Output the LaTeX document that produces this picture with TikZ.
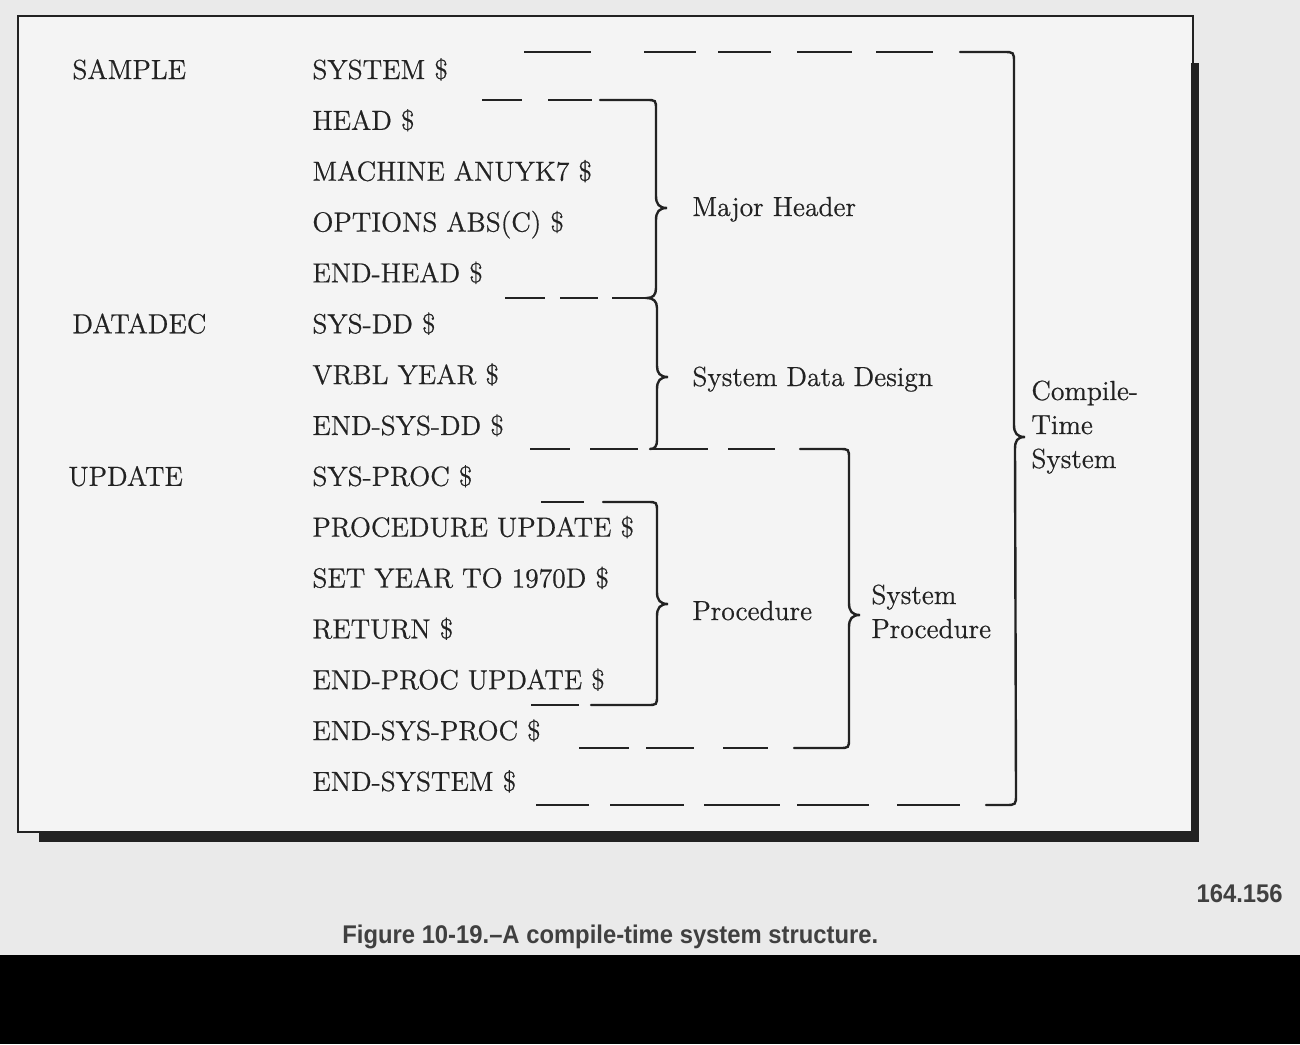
\documentclass[tikz,border=0pt]{standalone}
\usepackage{fontspec}
\newfontfamily\codefont[FakeBold=0.6]{Latin Modern Roman}
\newfontfamily\capfont[FakeStretch=0.93]{Liberation Sans}
\definecolor{paper}{HTML}{EAEAEA}
\definecolor{sheet}{HTML}{F4F4F4}
\definecolor{ink}{HTML}{222222}
\definecolor{capink}{HTML}{404040}
\tikzset{
  codeline/.style={anchor=base west, inner sep=0pt, text=ink, font=\codefont\fontsize{13.8}{16}\selectfont},
  captext/.style={anchor=base west, inner sep=0pt, text=capink, font=\capfont\bfseries\fontsize{12.8}{14}\selectfont},
  brace/.style={draw=ink, line width=1.2pt, line cap=round},
  dashbit/.style={draw=ink, line width=1.2pt},
}
\begin{document}
\begin{tikzpicture}[x=0.5pt, y=-0.5pt]
			\useasboundingbox (0,0) rectangle (1300,1044);
			\fill[paper] (0,0) rectangle (1300,955);
			\fill[black] (0,955) rectangle (1300,1044);

			\fill[sheet] (18,16) rectangle (1193,832);
			\draw[ink, line width=0.8pt] (18,16) rectangle (1193,832);
			\fill[ink] (1191,63) rectangle (1199,842);
			\fill[ink] (39,832) rectangle (1199,842);

			\foreach \txt [count=\i from 0] in {SYSTEM \$, HEAD \$, MACHINE ANUYK7 \$, OPTIONS ABS(C) \$, END-HEAD \$, SYS-DD \$, VRBL YEAR \$, END-SYS-DD \$, SYS-PROC \$, PROCEDURE UPDATE \$, SET YEAR TO 1970D \$, RETURN \$, END-PROC UPDATE \$, END-SYS-PROC \$, END-SYSTEM \$}
			  \node[codeline] (line\i) at (312, 79+50.85*\i) {\txt};

			\node[codeline] (sample) at (72,0 |- line0.base) {SAMPLE};
			\node[codeline] (datadec) at (72,0 |- line5.base) {DATADEC};
			\node[codeline] (update) at (68,0 |- line8.base) {UPDATE};

			\node[codeline] (header) at (692,216) {Major Header};
			\node[codeline] (datadesign) at (692,386) {System Data Design};
			\node[codeline] (proc) at (692,620) {Procedure};
			\node[codeline] (sysproc1) at (871,604) {System};
			\node[codeline] (sysproc2) at (871,638) {Procedure};
			\node[codeline] (compile1) at (1031,400) {Compile-};
			\node[codeline] (compile2) at (1031,434) {Time};
			\node[codeline] (compile3) at (1031,468) {System};

			\foreach \y/\a/\b in {52/524/591, 52/644/696, 52/718/771, 52/797/852, 52/876/933,
			  100/482/522, 100/548/592,
			  298/505/545, 298/560/598, 298/612/648,
			  449/530/570, 449/590/638, 449/650/708, 449/728/775,
			  502/541/584, 705/531/579,
			  748/579/629, 748/646/694, 748/723/768,
			  805/536/589, 805/610/684, 805/704/780, 805/797/869, 805/897/960}
			  \draw[dashbit] (\a,\y) -- (\b,\y);

			\draw[brace] (960,52) -- (1003,52) .. controls (1014,52) .. (1014,63) -- (1014,425)
			  .. controls (1014,433) and (1017,437) .. (1025,437) .. controls (1017,437) and (1015,441) .. (1015,449)
			  -- (1016,794) .. controls (1016,805) .. (1005,805) -- (986,805);
			\draw[brace] (600,100) -- (646,100) .. controls (656,100) .. (656,110) -- (656,196)
			  .. controls (656,204) and (659,208) .. (667,208) .. controls (659,208) and (656,212) .. (656,220)
			  -- (656,288) .. controls (656,295) and (653,298) .. (647,298) .. controls (653,298) and (657,301) .. (657,308)
			  -- (657,366) .. controls (657,373) and (660,377) .. (668,377) .. controls (660,377) and (657,381) .. (657,389)
			  -- (657,440) .. controls (657,446) and (655,449) .. (650,449);
			\draw[brace] (603,502) -- (647,502) .. controls (657,502) .. (657,512) -- (657,592)
			  .. controls (657,600) and (660,604) .. (668,604) .. controls (660,604) and (657,608) .. (657,616)
			  -- (657,695) .. controls (657,705) .. (647,705) -- (591,705);
			\draw[brace] (800,449) -- (839,449) .. controls (849,449) .. (849,459) -- (849,603)
			  .. controls (849,611) and (852,615) .. (860,615) .. controls (852,615) and (849,619) .. (849,627)
			  -- (849,738) .. controls (849,748) .. (839,748) -- (794,748);

			\node[captext] (caption) at (342,943) {Figure 10-19.–A compile-time system structure.};
			\node[captext, anchor=base east] (figno) at (1283,902) {164.156};
\end{tikzpicture}
\end{document}
